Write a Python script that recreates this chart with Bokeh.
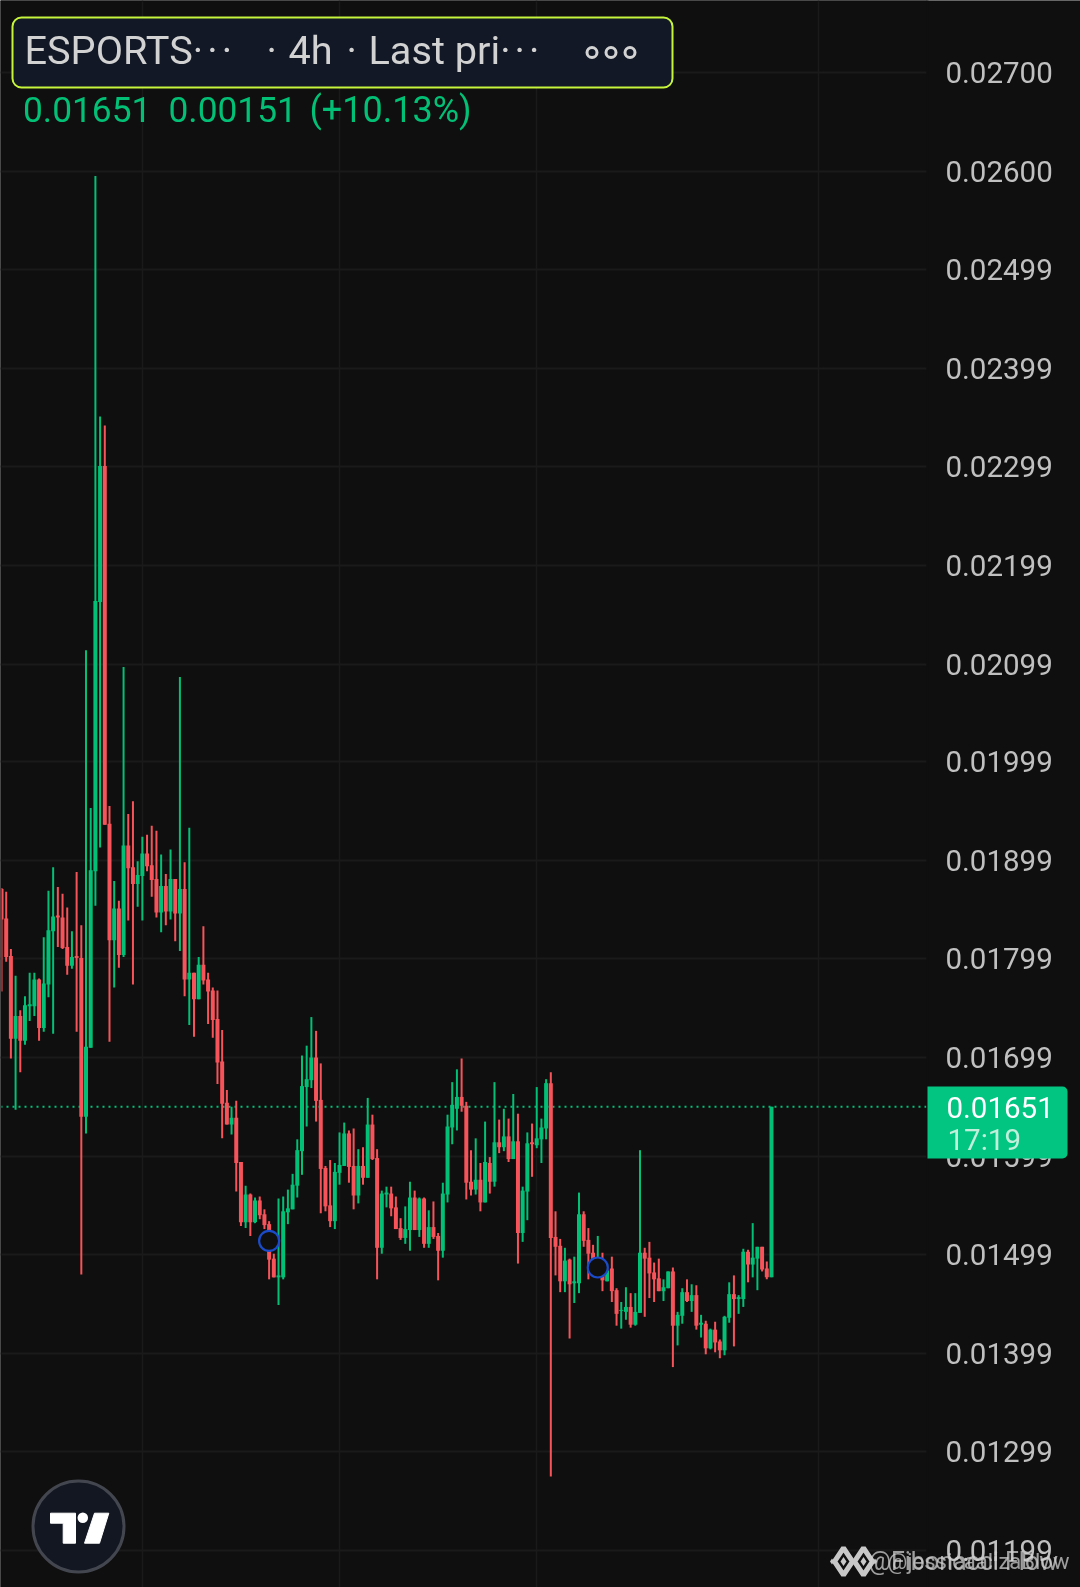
from bokeh.plotting import figure
from bokeh.models import ColumnDataSource, FixedTicker, BoxAnnotation, Span, Range1d
from bokeh.core.properties import value
from bokeh.embed import file_html
from bokeh.resources import INLINE

# prices in units of 0.00001
open_ = [1870,1840,1802,1718,1741,1716,1751,1751,1778,1729,1773,1827,1843,1841,1811,1792,1802,1800,1639,1709,
 1888,2161,2299,1936,1818,1850,1803,1914,1892,1875,1883,1906,1894,1880,1846,1873,1847,1880,1845,1870,
 1778,1785,1758,1793,1778,1767,1738,1695,1653,1631,1638,1593,1532,1560,1532,1554,1540,1530,1495,1476,
 1476,1542,1545,1569,1604,1669,1676,1699,1656,1587,1549,1533,1582,1589,1622,1589,1559,1589,1577,1631,
 1597,1506,1560,1561,1547,1526,1516,1524,1557,1524,1556,1510,1527,1518,1503,1560,1628,1647,1659,1650,
 1573,1565,1575,1552,1592,1573,1613,1608,1619,1596,1614,1521,1563,1613,1610,1616,1627,1673,1517,1508,
 1472,1494,1470,1470,1540,1514,1501,1479,1490,1472,1485,1463,1442,1441,1446,1428,1440,1501,1496,1481,
 1475,1462,1465,1482,1427,1437,1461,1452,1458,1428,1429,1404,1423,1411,1402,1435,1459,1454,1454,1502,
 1489,1495,1507,1485,1476]
high = [1871,1867,1809,1782,1747,1761,1785,1785,1779,1821,1868,1892,1872,1865,1851,1827,1887,1833,2112,1952,
 2593,2349,2340,1954,1878,1858,2095,1946,1959,1898,1923,1925,1934,1929,1905,1885,1910,1880,2085,1897,
 1932,1785,1801,1832,1785,1770,1767,1727,1666,1649,1655,1593,1569,1561,1557,1558,1545,1533,1500,1556,
 1558,1565,1581,1616,1701,1711,1740,1726,1693,1589,1595,1592,1623,1633,1625,1627,1606,1608,1658,1641,
 1606,1564,1568,1568,1558,1536,1548,1573,1564,1557,1557,1544,1553,1521,1572,1641,1674,1687,1698,1654,
 1605,1617,1592,1634,1598,1674,1636,1647,1637,1662,1642,1568,1623,1632,1669,1637,1677,1684,1543,1515,
 1506,1495,1497,1562,1543,1526,1509,1518,1501,1490,1497,1465,1451,1466,1460,1460,1605,1506,1512,1491,
 1495,1474,1482,1486,1441,1465,1474,1469,1468,1438,1432,1424,1431,1413,1437,1471,1478,1458,1505,1504,
 1531,1507,1507,1492,1649]
low = [1766,1796,1698,1646,1684,1712,1736,1741,1716,1725,1760,1723,1811,1809,1783,1789,1725,1479,1622,1709,
 1853,1912,1935,1715,1770,1790,1801,1838,1773,1852,1838,1888,1862,1841,1826,1833,1839,1817,1807,1761,
 1732,1720,1758,1773,1733,1719,1672,1617,1631,1621,1563,1528,1526,1518,1531,1535,1525,1474,1476,1448,
 1474,1530,1545,1557,1580,1629,1668,1634,1541,1543,1527,1525,1570,1589,1572,1545,1551,1570,1577,1595,
 1474,1500,1547,1538,1525,1514,1510,1503,1524,1517,1506,1506,1515,1473,1496,1552,1611,1625,1644,1555,
 1559,1560,1543,1552,1561,1568,1602,1604,1593,1596,1490,1512,1534,1578,1607,1592,1616,1274,1478,1461,
 1461,1414,1450,1460,1507,1474,1478,1476,1462,1472,1451,1427,1424,1433,1425,1427,1440,1436,1455,1451,
 1462,1452,1465,1385,1407,1429,1451,1441,1423,1415,1398,1403,1400,1394,1397,1430,1406,1439,1446,1471,
 1476,1463,1482,1474,1476]
close = [1839,1801,1718,1741,1716,1752,1753,1778,1729,1774,1828,1842,1841,1810,1792,1801,1800,1639,1710,1889,
 2162,2299,1935,1818,1850,1803,1914,1891,1875,1884,1906,1893,1879,1846,1873,1847,1880,1845,1870,1778,
 1785,1758,1793,1777,1766,1737,1694,1652,1631,1638,1592,1532,1560,1532,1554,1539,1529,1494,1476,1478,
 1543,1546,1570,1605,1670,1677,1699,1655,1586,1548,1533,1583,1590,1622,1588,1559,1589,1577,1631,1596,
 1506,1561,1562,1546,1525,1516,1525,1557,1524,1556,1510,1527,1517,1503,1561,1629,1651,1659,1650,1572,
 1565,1575,1552,1593,1573,1613,1608,1619,1596,1614,1521,1564,1612,1611,1617,1628,1673,1516,1507,1472,
 1493,1469,1472,1540,1513,1500,1487,1493,1473,1483,1462,1439,1443,1446,1428,1441,1501,1495,1480,1474,
 1462,1466,1482,1427,1438,1461,1452,1458,1427,1430,1404,1423,1410,1402,1436,1459,1454,1456,1502,1489,
 1496,1507,1484,1476,1649]
tick_values = [2698,2598,2498,2398,2298,2198,2098,1999,1899,1799,1699,1599,1499,1399,1299,1199]
tick_labels = ["0.02700","0.02600","0.02499","0.02399","0.02299","0.02199","0.02099","0.01999",
               "0.01899","0.01799","0.01699","0.01599","0.01499","0.01399","0.01299","0.01199"]
grid_candles = [30, 72, 114, 174]
marker_candles = [57, 127]
marker_prices = [1513, 1486]

BG = "#0F0F0F"; GREEN = "#02C076"; RED = "#F6545A"; GRID = "#1A1A1A"; GREY = "#C0C0C0"
W, H, AXIS_W = 1080, 1587, 153
FRAME_W = W - AXIS_W
STEP = 4.695      # pixels per candle
PRICE_PER_PX = 1.0142
TOP_PRICE = 2771
FIXED = {"position": "fixed", "left": "0px", "top": "0px"}

p = figure(width=W, height=H, output_backend="svg", toolbar_location=None,
           x_range=Range1d(-1 / STEP, (FRAME_W - 1) / STEP),
           y_range=Range1d(TOP_PRICE - H * PRICE_PER_PX, TOP_PRICE),
           y_axis_location="right", background_fill_color=BG, border_fill_color=BG,
           min_border_left=0, min_border_top=0, min_border_bottom=0, min_border_right=AXIS_W)
p.styles = FIXED
p.outline_line_color = None
p.xaxis.visible = False
p.xgrid.ticker = FixedTicker(ticks=grid_candles)
p.xgrid.grid_line_color = GRID
p.xgrid.grid_line_width = 1.5
p.ygrid.ticker = FixedTicker(ticks=tick_values)
p.ygrid.grid_line_color = GRID
p.ygrid.grid_line_width = 2

ax = p.yaxis[0]
ax.ticker = FixedTicker(ticks=tick_values)
ax.major_label_overrides = dict(zip(tick_values, tick_labels))
ax.axis_line_color = None
ax.major_tick_line_color = None
ax.minor_tick_line_color = None
ax.major_tick_out = 0
ax.major_tick_in = 0
ax.major_label_standoff = 18
ax.major_label_text_color = GREY
ax.major_label_text_font = "Roboto"
ax.major_label_text_font_size = "29.5px"

idx = list(range(len(close)))
colors = [GREEN if c >= o else RED for o, c in zip(open_, close)]
src = ColumnDataSource(dict(x=idx, o=open_, h=high, l=low, c=close, color=colors,
                            top=[max(a, b) for a, b in zip(open_, close)],
                            bottom=[min(a, b) for a, b in zip(open_, close)]))

p.add_layout(Span(location=close[-1], dimension="width", line_color=GREEN, line_width=2,
                  line_dash="2 4", level="underlay"))
p.segment("x", "h", "x", "l", source=src, color="color", line_width=2)
p.vbar("x", top="top", bottom="bottom", width=4 / STEP, source=src, color="color", line_width=0, line_alpha=0)
p.scatter(marker_candles, marker_prices, marker="circle", size=20, fill_color=BG,
          line_color="#1C4BC9", line_width=2.2)

# overlay in page pixels: header, price tag, logo, watermark
o = figure(width=W, height=H, output_backend="svg", toolbar_location=None,
           x_range=Range1d(0, W), y_range=Range1d(H, 0),
           background_fill_color=None, background_fill_alpha=0, border_fill_color=None, border_fill_alpha=0,
           min_border_left=0, min_border_top=0, min_border_bottom=0, min_border_right=0)
o.styles = FIXED
o.outline_line_color = None
o.axis.visible = False
o.grid.visible = False


def label(text, px, center_y, size, color, alpha=1.0):
    o.text([px], [center_y], text=[text], text_font=value("Roboto"), text_font_size=f"{size}px",
           text_color=color, text_alpha=alpha, text_baseline="middle", text_align="left")


def cover(left, right, top, bottom):
    o.add_layout(BoxAnnotation(left=left, right=right, top=top, bottom=bottom, fill_color=BG, fill_alpha=1,
                               line_alpha=0, level="underlay"))


cover(925.8, 928.2, 0, H)
cover(-1, 1, 0, H)
cover(0, W, -1, 1)

DOTS = "\u00b7\u200a\u00b7\u200a\u00b7"
o.add_layout(BoxAnnotation(left=12, right=672, top=17, bottom=87, fill_color="#121826", fill_alpha=1,
                           line_color="#C6F53C", line_width=2, line_alpha=1, border_radius=9, level="underlay"))
label("ESPORTS" + DOTS, 24, 50, 39.7, "#D2D2D2")
label("\u00b7", 266, 50, 39.7, "#D2D2D2")
label("4h", 288, 50, 39.7, "#D2D2D2")
label("\u00b7", 346, 50, 39.7, "#D2D2D2")
label("Last pri" + DOTS, 368, 50, 39.7, "#D2D2D2")
o.scatter([591.5, 610.5, 629.5], [52, 52, 52], marker="circle", size=10,
          fill_color=None, line_color="#D2D2D2", line_width=3)
label("0.01651", 22.5, 109, 35.3, GREEN)
label("0.00151", 168, 109, 35.3, GREEN)
label("(+10.13%)", 309, 109, 36, GREEN)

o.add_layout(BoxAnnotation(left=927, right=1067, top=1086, bottom=1158, fill_color="#02C582",
                           fill_alpha=1, line_alpha=0,
                           border_radius=dict(top_left=0, top_right=5, bottom_right=5, bottom_left=0),
                           level="underlay"))
label("0.01651", 946, 1107, 29.5, "#FFFFFF")
label("17:19", 947, 1139, 29.5, "#C2EEDC")

o.scatter([78], [1526], marker="circle", size=91, fill_color="#131722", line_color="#43464F", line_width=3)
o.patch([50, 75, 75, 62.7, 62.7, 50], [1512.7, 1512.7, 1542.7, 1542.7, 1522.7, 1522.7], color="#FFFFFF")
o.patch([94, 108.3, 99, 84], [1512.7, 1512.7, 1542.7, 1542.7], color="#FFFFFF")
o.scatter([82.3], [1517.3], marker="circle", size=10.5, fill_color="#FFFFFF", line_alpha=0)

for cx in (843, 863):
    o.scatter([cx], [1561], marker="diamond", size=27, fill_color=None, line_color="#C8C8C8", line_width=5)
    o.scatter([cx], [1561], marker="diamond", size=9, fill_color="#C8C8C8", line_alpha=0)
    o.scatter([cx - 11.5, cx + 11.5], [1561, 1561], marker="diamond", size=6, fill_color="#C8C8C8", line_alpha=0)
label("@Fibonacci Flow", 868, 1561, 25, "#CFCFCF", 0.75)
label("@jessicaalizaBlow", 887, 1561, 22, "#CFCFCF", 0.75)

open("out.html", "w").write(file_html((p, o), INLINE))
